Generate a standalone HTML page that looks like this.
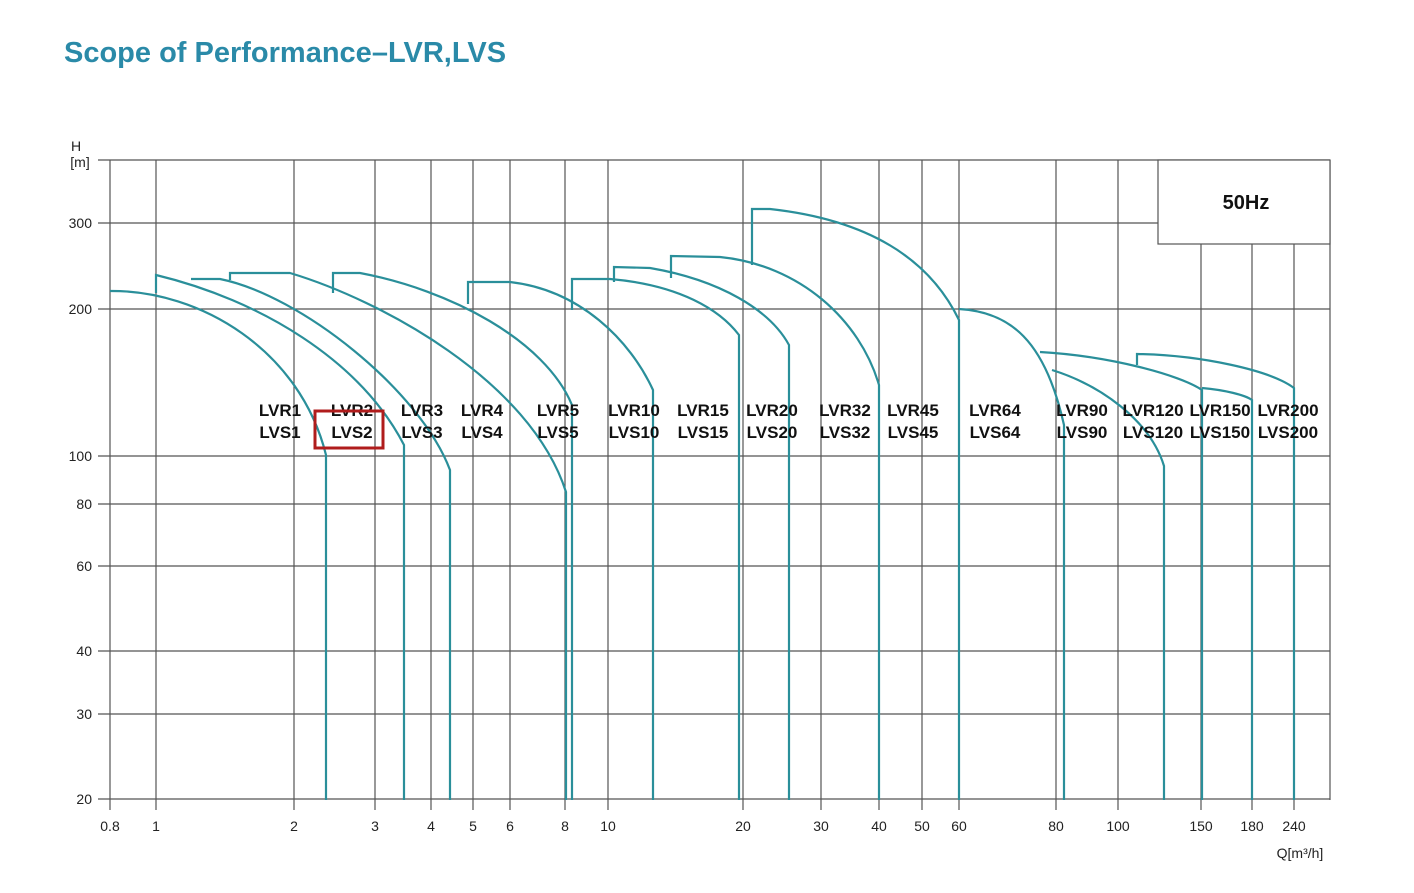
<!DOCTYPE html>
<html><head><meta charset="utf-8"><style>
body{margin:0;background:#fff;}
svg{display:block;font-family:"Liberation Sans",sans-serif;}
</style></head><body>
<svg width="1414" height="893" viewBox="0 0 1414 893">
<text x="64" y="62" font-size="29" font-weight="bold" fill="#2a8aa8">Scope of Performance–LVR,LVS</text>
<text x="76" y="151" font-size="14" fill="#222" text-anchor="middle">H</text>
<text x="80" y="167" font-size="14" fill="#222" text-anchor="middle">[m]</text>
<g stroke="#555" stroke-width="1.2" fill="none">
<path d="M98,160H1330 M98,223H1330 M98,309H1330 M98,456H1330 M98,504H1330 M98,566H1330 M98,651H1330 M98,714H1330 M98,799H1330"/>
<path d="M110,160V810 M156,160V810 M294,160V810 M375,160V810 M431,160V810 M473,160V810 M510,160V810 M565,160V810 M608,160V810 M743,160V810 M821,160V810 M879,160V810 M922,160V810 M959,160V810 M1056,160V810 M1118,160V810 M1201,160V810 M1252,160V810 M1294,160V810 M1330,160V800"/>
</g>
<rect x="1158" y="160" width="172" height="84" fill="#fff" stroke="#555" stroke-width="1.2"/>
<text x="1246" y="209" font-size="20" font-weight="bold" text-anchor="middle" fill="#111">50Hz</text>
<g font-size="14" fill="#222" text-anchor="end">
<text x="92" y="228">300</text><text x="92" y="314">200</text><text x="92" y="461">100</text><text x="92" y="509">80</text><text x="92" y="571">60</text><text x="92" y="656">40</text><text x="92" y="719">30</text><text x="92" y="804">20</text>
</g>
<g font-size="14" fill="#222" text-anchor="middle">
<text x="110" y="831">0.8</text><text x="156" y="831">1</text><text x="294" y="831">2</text><text x="375" y="831">3</text><text x="431" y="831">4</text><text x="473" y="831">5</text><text x="510" y="831">6</text><text x="565" y="831">8</text><text x="608" y="831">10</text><text x="743" y="831">20</text><text x="821" y="831">30</text><text x="879" y="831">40</text><text x="922" y="831">50</text><text x="959" y="831">60</text><text x="1056" y="831">80</text><text x="1118" y="831">100</text><text x="1201" y="831">150</text><text x="1252" y="831">180</text><text x="1294" y="831">240</text>
<text x="1300" y="858">Q[m³/h]</text>
</g>
<g stroke="#2a8f9a" stroke-width="2.2" fill="none">
<path d="M110,291 C200,290 300,350 326,455 L326,800"/>
<path d="M156,293 L156,275 C260,300 360,360 404,445 L404,800"/>
<path d="M191,279 L220,279 C300,295 420,390 450,470 L450,800"/>
<path d="M230,280 L230,273 L290,273 C380,300 530,380 566,492 L566,800"/>
<path d="M333,293 L333,273 L360,273 C450,290 545,340 572,405 L572,800"/>
<path d="M468,304 L468,282 L510,282 C580,290 630,340 653,390 L653,800"/>
<path d="M572,310 L572,279 L610,279 C680,285 720,310 739,335 L739,800"/>
<path d="M614,282 L614,267 L650,268 C720,280 770,310 789,345 L789,800"/>
<path d="M671,278 L671,256 L720,257 C800,265 860,320 879,385 L879,800"/>
<path d="M752,265 L752,209 L770,209 C870,220 930,260 959,320 L959,800"/>
<path d="M959,309 C1010,312 1045,340 1064,425 L1064,800"/>
<path d="M1040,352 C1110,356 1180,375 1202,390 L1202,800"/>
<path d="M1052,370 C1100,385 1150,420 1164,466 L1164,800"/>
<path d="M1137,365 L1137,354 C1200,355 1270,370 1294,388 L1294,800"/>
<path d="M1202,388 C1225,390 1245,395 1252,400 L1252,800"/>
</g>
<g font-size="17" font-weight="bold" fill="#111" text-anchor="middle">
<text x="280" y="416">LVR1</text><text x="280" y="438">LVS1</text>
<text x="352" y="416">LVR2</text><text x="352" y="438">LVS2</text>
<text x="422" y="416">LVR3</text><text x="422" y="438">LVS3</text>
<text x="482" y="416">LVR4</text><text x="482" y="438">LVS4</text>
<text x="558" y="416">LVR5</text><text x="558" y="438">LVS5</text>
<text x="634" y="416">LVR10</text><text x="634" y="438">LVS10</text>
<text x="703" y="416">LVR15</text><text x="703" y="438">LVS15</text>
<text x="772" y="416">LVR20</text><text x="772" y="438">LVS20</text>
<text x="845" y="416">LVR32</text><text x="845" y="438">LVS32</text>
<text x="913" y="416">LVR45</text><text x="913" y="438">LVS45</text>
<text x="995" y="416">LVR64</text><text x="995" y="438">LVS64</text>
<text x="1082" y="416">LVR90</text><text x="1082" y="438">LVS90</text>
<text x="1153" y="416">LVR120</text><text x="1153" y="438">LVS120</text>
<text x="1220" y="416">LVR150</text><text x="1220" y="438">LVS150</text>
<text x="1288" y="416">LVR200</text><text x="1288" y="438">LVS200</text>
</g>
<rect x="315" y="411" width="68" height="37" fill="none" stroke="#b01c1c" stroke-width="3"/>
</svg>
</body></html>
